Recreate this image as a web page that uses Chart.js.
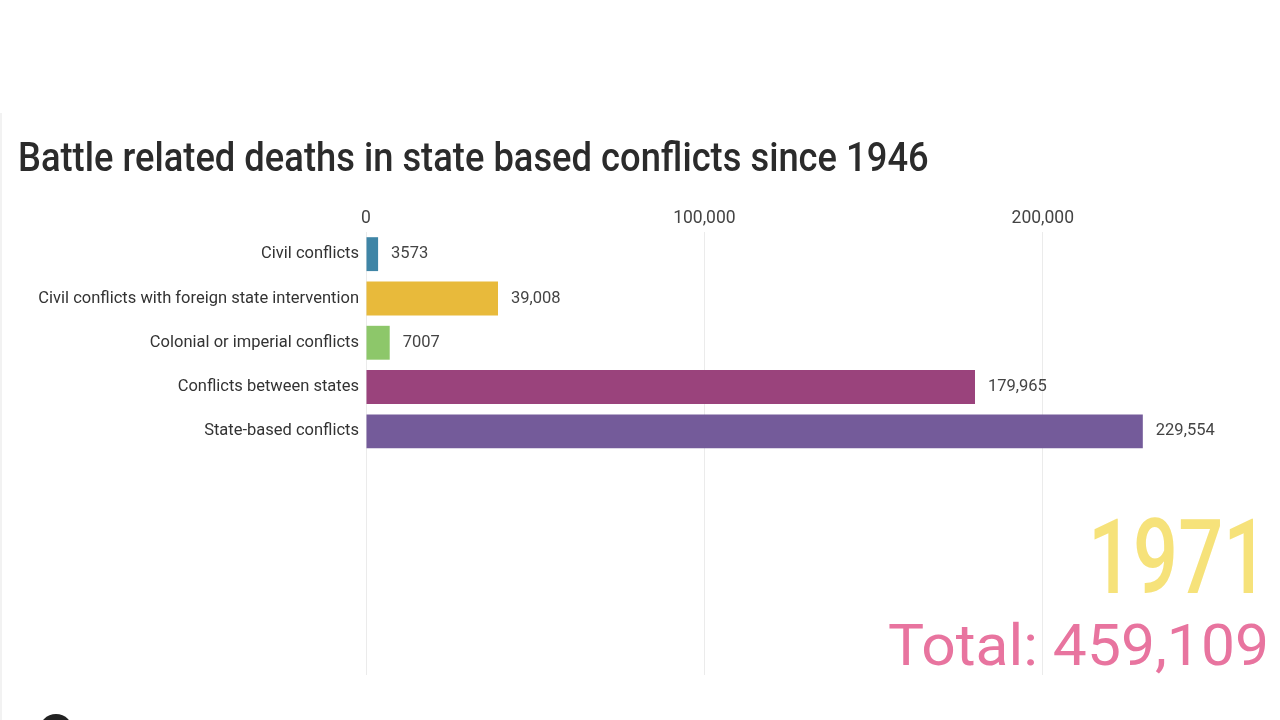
<!DOCTYPE html>
<html>
<head>
<meta charset="utf-8">
<script src="https://cdn.jsdelivr.net/npm/chart.js@4.4.0/dist/chart.umd.min.js"></script>
<style>
    html, body { margin: 0; padding: 0; background: #fff; }
    body { width: 1280px; height: 720px; position: relative; overflow: hidden; font-family: Roboto, sans-serif; }
    #chartBox { position: absolute; left: 0; top: 0; width: 1280px; height: 720px; }
    .fit { position: absolute; white-space: nowrap; transform-origin: 0 0; line-height: 1; }
    #title { color: #2b2b2b; font-weight: 500; font-size: 41px; }
    #year { color: #f6e27a; font-weight: 500; font-size: 104px; }
    #total { color: #e8749f; font-weight: 400; font-size: 58px; }
    #edge { position: absolute; left: 0; top: 113px; width: 2px; height: 607px; background: #f2f2f2; }
    #dot { position: absolute; left: 39px; top: 714px; width: 34px; height: 34px; border-radius: 50%; background: #222; }
</style>
</head>
<body>
<div id="edge"></div>
<div id="chartBox"><canvas id="chart" width="1280" height="720"></canvas></div>
<div id="title" class="fit">Battle related deaths in state based conflicts since 1946</div>
<div id="year" class="fit">1971</div>
<div id="total" class="fit">Total: 459,109</div>
<div id="dot"></div>
<script>
// ===== Data =====
const categories = [
    'Civil conflicts',
    'Civil conflicts with foreign state intervention',
    'Colonial or imperial conflicts',
    'Conflicts between states',
    'State-based conflicts'
];
const deaths = [3573, 39008, 7007, 179965, 229554];
const barColors = ['#3f85a6', '#e8ba3b', '#8dc76a', '#9a437c', '#745b9a'];
const tickValues = [0, 100000, 200000];
const yearLabel = '1971';
const totalLabel = 'Total: 459,109';

document.getElementById('year').textContent = yearLabel;
document.getElementById('total').textContent = totalLabel;

// squeeze html text into a box (text in the picture is a condensed face)
function fitText(id, left, top, width) {
    const el = document.getElementById(id);
    const w = el.scrollWidth;
    el.style.left = left + 'px';
    el.style.top = top + 'px';
    el.style.transform = `scaleX(${width / w})`;
}
fitText('title', 18, 137, 911);
fitText('year', 1088, 506, 180);
fitText('total', 888, 616, 381);

function fmt(v) {
    return v >= 10000 ? v.toLocaleString('en-US') : String(v);
}

// value label just past the end of each bar
const valueLabels = {
    id: 'valueLabels',
    afterDatasetsDraw(chart) {
        const ctx = chart.ctx;
        const meta = chart.getDatasetMeta(0);
        ctx.save();
        ctx.font = '16.5px Roboto, sans-serif';
        ctx.fillStyle = '#444';
        ctx.textBaseline = 'middle';
        ctx.textAlign = 'left';
        meta.data.forEach((bar, i) => {
            ctx.fillText(fmt(deaths[i]), bar.x + 13, bar.y);
        });
        ctx.restore();
    }
};

const ctx = document.getElementById('chart').getContext('2d');
new Chart(ctx, {
    type: 'bar',
    data: {
        datasets: [{
            data: deaths.map((v, i) => ({ x: v, y: i })),
            backgroundColor: barColors,
            borderWidth: 0,
            barPercentage: 0.9,
            categoryPercentage: 0.85
        }]
    },
    options: {
        indexAxis: 'y',
        responsive: false,
        animation: false,
        layout: { padding: { top: 0, left: 0, right: 68, bottom: 45 } },
        plugins: { legend: { display: false }, tooltip: { enabled: false } },
        scales: {
            x: {
                type: 'linear',
                position: 'top',
                min: 0,
                max: 250000,
                afterBuildTicks: s => { s.ticks = tickValues.map(v => ({ value: v })); },
                afterFit: s => { s.height = 232; },
                border: { display: false },
                grid: { color: '#ebebeb', drawTicks: false, lineWidth: 1 },
                ticks: {
                    padding: 3,
                    color: '#444',
                    font: { family: 'Roboto', size: 17.5 },
                    callback: v => v.toLocaleString('en-US')
                }
            },
            y: {
                type: 'linear',
                reverse: true,
                offset: false,
                min: -0.5,
                max: 9.5,
                afterBuildTicks: s => { s.ticks = categories.map((c, i) => ({ value: i })); },
                afterFit: s => { s.width = 366; },
                border: { display: false },
                grid: { display: false, drawTicks: false },
                ticks: {
                    padding: 7,
                    color: '#333',
                    font: { family: 'Roboto', size: 16.5 },
                    callback: v => categories[v] || ''
                }
            }
        }
    },
    plugins: [valueLabels]
});
</script>
</body>
</html>
